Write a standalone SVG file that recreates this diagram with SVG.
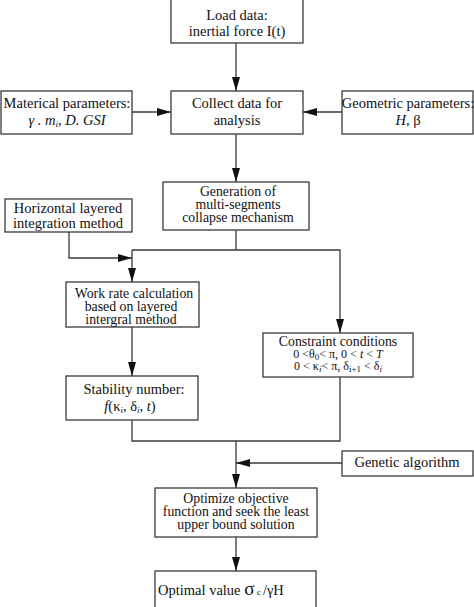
<svg xmlns="http://www.w3.org/2000/svg" width="474" height="607" viewBox="0 0 474 607" font-family="'Liberation Serif', 'DejaVu Serif', serif">
<style>
.box{fill:#fff;stroke:#3a3a3a;stroke-width:1.3}
.ln{fill:none;stroke:#3a3a3a;stroke-width:1.3}
text{font-family:'Liberation Serif','Times New Roman',serif;font-size:14.5px;fill:#111;text-anchor:middle}
.t3{font-size:13.8px}
.s{font-size:12px}
.it{font-style:italic}
.sub{font-size:9px;baseline-shift:-2px}
</style>
<defs>
<marker id="ah" viewBox="0 0 14 8" refX="14" refY="4" markerWidth="14" markerHeight="8" markerUnits="userSpaceOnUse" orient="auto">
<path d="M0,0 L14,4 L0,8 Z" fill="#111"/>
</marker>
</defs>
<rect width="474" height="607" fill="#fff"/>
<g id="connectors">
<line class="ln" x1="236" y1="43" x2="236" y2="91" marker-end="url(#ah)"/>
<line class="ln" x1="132" y1="112" x2="171" y2="112" marker-end="url(#ah)"/>
<line class="ln" x1="342" y1="112" x2="303" y2="112" marker-end="url(#ah)"/>
<line class="ln" x1="236" y1="134" x2="236" y2="182" marker-end="url(#ah)"/>
<polyline class="ln" points="236,230 236,250"/>
<polyline class="ln" points="132,250 340,250 340,333" marker-end="url(#ah)"/>
<polyline class="ln" points="69,232 69,258 132,258" marker-end="url(#ah)"/>
<line class="ln" x1="132" y1="250" x2="132" y2="282" marker-end="url(#ah)"/>
<line class="ln" x1="132" y1="327" x2="132" y2="376" marker-end="url(#ah)"/>
<polyline class="ln" points="132,420 132,441 340,441 340,377"/>
<line class="ln" x1="236" y1="441" x2="236" y2="488" marker-end="url(#ah)"/>
<line class="ln" x1="342" y1="463" x2="236" y2="463" marker-end="url(#ah)"/>
<line class="ln" x1="236" y1="537" x2="236" y2="571" marker-end="url(#ah)"/>
</g>
<g id="load">
<rect class="box" x="171" y="-2" width="132" height="45"/>
<text x="237" y="20">Load data:</text>
<text x="237" y="36">inertial force I(t)</text>
</g>
<g id="materical">
<rect class="box" x="1" y="91" width="131" height="43"/>
<text x="67" y="108">Materical parameters:</text>
<text x="67" y="125" class="it">γ . m<tspan class="sub">i</tspan>, D. GSI</text>
</g>
<g id="collect">
<rect class="box" x="171" y="91" width="132" height="43"/>
<text x="237" y="108">Collect data for</text>
<text x="237" y="125">analysis</text>
</g>
<g id="geometric">
<rect class="box" x="342" y="91" width="131" height="43"/>
<text x="408" y="108">Geometric parameters:</text>
<text x="408" y="125"><tspan class="it">H</tspan>, β</text>
</g>
<g id="generation">
<rect class="box" x="163" y="182" width="146" height="48"/>
<text x="238" y="196" class="t3">Generation of</text>
<text x="238" y="209" class="t3">multi-segments</text>
<text x="238" y="222" class="t3">collapse mechanism</text>
</g>
<g id="horizontal">
<rect class="box" x="5" y="199" width="127" height="33"/>
<text x="68" y="213">Horizontal layered</text>
<text x="68" y="228">integration method</text>
</g>
<g id="workrate">
<rect class="box" x="66" y="282" width="133" height="45"/>
<text x="134" y="298" class="t3">Work rate calculation</text>
<text x="131" y="311" class="t3">based on layered</text>
<text x="131" y="324" class="t3">intergral method</text>
</g>
<g id="constraint">
<rect class="box" x="263" y="333" width="150" height="44"/>
<text x="338" y="346" class="t3">Constraint conditions</text>
<text x="338" y="358" class="s">0 &lt;θ<tspan class="sub">0</tspan>&lt; π, 0 &lt; <tspan class="it">t</tspan> &lt; <tspan class="it">T</tspan></text>
<text x="338" y="370" class="s">0 &lt; κ<tspan class="sub it">i</tspan>&lt; π, δ<tspan class="sub">i+1</tspan> &lt; δ<tspan class="sub it">i</tspan></text>
</g>
<g id="stability">
<rect class="box" x="66" y="376" width="132" height="44"/>
<text x="134" y="394">Stability number:</text>
<text x="130" y="411"><tspan class="it">f</tspan>(κ<tspan class="sub it">i</tspan>, δ<tspan class="sub it">i</tspan>, <tspan class="it">t</tspan>)</text>
</g>
<g id="genetic">
<rect class="box" x="342" y="451" width="131" height="25"/>
<text x="407" y="467">Genetic algorithm</text>
</g>
<g id="optimize">
<rect class="box" x="155" y="488" width="162" height="49"/>
<text x="236" y="503" class="t3">Optimize objective</text>
<text x="236" y="516" class="t3">function and seek the least</text>
<text x="236" y="529" class="t3">upper bound solution</text>
</g>
<g id="optimal">
<rect class="box" x="155" y="571" width="161" height="40"/>
<text x="158" y="595" style="text-anchor:start">Optimal value <tspan font-size="19">σ</tspan><tspan font-size="9"> c </tspan>/γH</text>
</g>
</svg>
